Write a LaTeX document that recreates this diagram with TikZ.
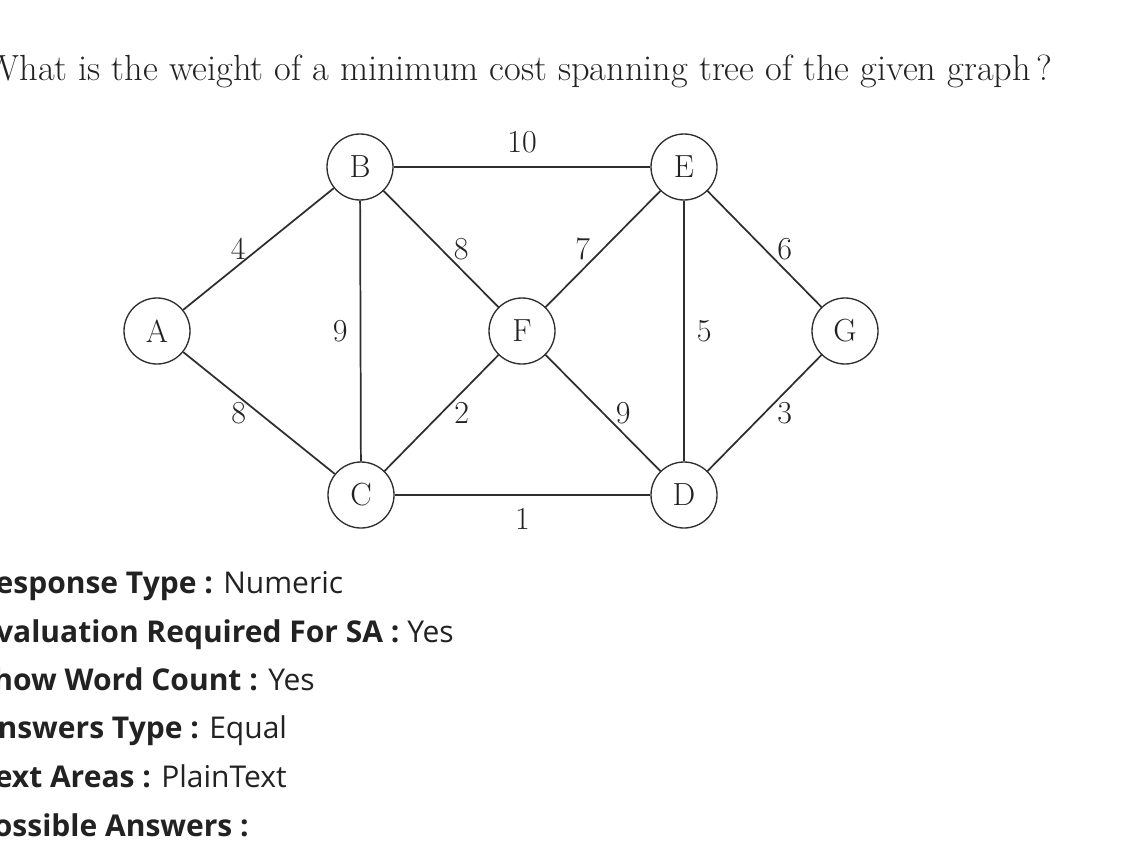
\documentclass[tikz,border=0pt]{standalone}
\usepackage{fontspec}
\usepackage{tikz}
\usetikzlibrary{positioning}
\newfontfamily\opensans{Open Sans}
\definecolor{Ink}{HTML}{222222}
\definecolor{Edge}{HTML}{2E2E2E}

\begin{document}
\begin{tikzpicture}[
    x=0.75pt, y=-0.75pt,
    every node/.style={font=\fontsize{24}{29}\selectfont, text=Ink},
    vertex/.style={circle, draw=Edge, fill=white, line width=1pt, minimum size=49.5pt, inner sep=0pt},
    edge/.style={draw=Edge, line width=1.3pt},
    lbl/.style={inner sep=0pt},
    info/.style={font=\opensans\fontsize{22.5}{27}\selectfont, anchor=base west, inner sep=0pt}
]
\useasboundingbox[fill=white] (0,0) rectangle (1137,853);

% Question
\node[anchor=base east, inner sep=0pt, font=\fontsize{27.3}{33}\selectfont] (question) at (1053,80)
    {What is the weight of a minimum cost spanning tree of the given graph\,?};

% Vertices
\node[vertex] (A) at (157,331) {A};
\node[vertex] (B) at (360,167) {B};
\node[vertex] (C) at (361,495) {C};
\node[vertex] (F) at (522,331) {F};
\node[vertex] (E) at (684,167) {E};
\node[vertex] (D) at (684,495) {D};
\node[vertex] (G) at (845,331) {G};

% Weighted edges
\draw[edge] (A) -- node[lbl, left=9pt] {4} (B);
\draw[edge] (A) -- node[lbl, left=9pt] {8} (C);
\draw[edge] (B) -- node[lbl, left=9pt] {9} (C);
\draw[edge] (B) -- node[lbl, above=10pt] {10} (E);
\draw[edge] (B) -- node[lbl, right=9pt] {8} (F);
\draw[edge] (C) -- node[lbl, right=9pt] {2} (F);
\draw[edge] (C) -- node[lbl, below=9pt] {1} (D);
\draw[edge] (F) -- node[lbl, left=9pt] {7} (E);
\draw[edge] (F) -- node[lbl, right=9pt] {9} (D);
\draw[edge] (E) -- node[lbl, right=9pt] {5} (D);
\draw[edge] (E) -- node[lbl, right=9pt] {6} (G);
\draw[edge] (G) -- node[lbl, right=9pt] {3} (D);

% Question settings
\node[info] (resp) at (223,593) {\llap{\textbf{Response Type :} }Numeric};
\node[info] (eval) at (407,642) {\llap{\textbf{Evaluation Required For SA :} }Yes};
\node[info] (word) at (268,690) {\llap{\textbf{Show Word Count :} }Yes};
\node[info] (anst) at (209,738) {\llap{\textbf{Answers Type :} }Equal};
\node[info] (area) at (161,787) {\llap{\textbf{Text Areas :} }PlainText};
\node[info, anchor=base east] (poss) at (249,836) {\textbf{Possible Answers :}};

\end{tikzpicture}
\end{document}
